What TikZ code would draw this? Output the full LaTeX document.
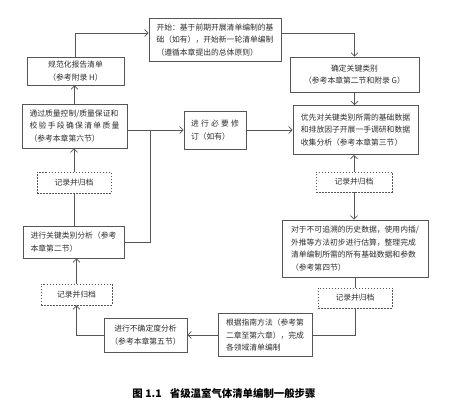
\documentclass[tikz,border=0pt]{standalone}
\usepackage{fontspec}
\setmainfont{Noto Sans CJK SC}
\definecolor{LineGray}{RGB}{85, 85, 85}
\definecolor{TextGray}{RGB}{45, 45, 45}
\usetikzlibrary{arrows.meta, positioning, calc}

\begin{document}
\begin{tikzpicture}[x=1pt, y=-1pt,
    box/.style={draw=LineGray, line width=0.7pt, inner sep=2pt, text=TextGray, font=\fontsize{7.8}{12.5}\selectfont},
    recbox/.style={box, dash pattern=on 1.5pt off 1.5pt, minimum width=74pt, minimum height=21pt},
    link/.style={LineGray, line width=0.7pt},
    arr/.style={link, -{Straight Barb[length=3.5pt, width=7pt]}}]
    \useasboundingbox (0,0) rectangle (474,419);

    % Left column
    \node[box, minimum width=97pt, minimum height=28pt, align=center] (norm) at (75.5,71) {规范化报告清单\\（参考附录 H）};
    \node[box, minimum width=105pt, minimum height=44pt, align=left] (qc) at (74.5,126) {通过质量控制/质量保证和\\\makebox[90pt][s]{校\hfill 验\hfill 手\hfill 段\hfill 确\hfill 保\hfill 清\hfill 单\hfill 质\hfill 量}\\（参考本章第六节）};
    \node[recbox] (recA) at (74,183) {记录并归档};
    \node[box, minimum width=101pt, minimum height=32pt, align=left] (keyan) at (73.5,242) {进行关键类别分析（参考\\本章第二节）};
    \node[recbox, minimum width=71pt] (recB) at (76.5,294.5) {记录并归档};

    % Middle
    \node[box, minimum width=132pt, minimum height=43pt, align=left] (start) at (215,40) {开始：基于前期开展清单编制的基\\础（如有），开始新一轮清单编制\\（遵循本章提出的总体原则）};
    \node[box, minimum width=62pt, minimum height=38pt, align=left] (rev) at (215,130) {\makebox[48pt][s]{进\hfill 行\hfill 必\hfill 要\hfill 修}\\订（如有）};
    \node[box, minimum width=83pt, minimum height=34pt, align=center] (unc) at (145.5,335) {进行不确定度分析\\（参考本章第五节）};
    \node[box, minimum width=94pt, minimum height=43pt, align=left] (comp) at (265,335) {根据指南方法（参考第\\二章至第六章），完成\\各领域清单编制};
    \coordinate (jn) at (150,130);

    % Right column
    \node[box, minimum width=129pt, minimum height=35pt, align=center] (keycat) at (354.5,74.5) {确定关键类别\\（参考本章第二节和附录 G）};
    \node[box, minimum width=125pt, minimum height=49pt, align=left] (prio) at (355.5,130) {优先对关键类别所需的基础数据\\和排放因子开展一手调研和数据\\收集分析（参考本章第三节）};
    \node[recbox, minimum width=76pt, minimum height=20pt] (recC) at (354,182) {记录并归档};
    \node[box, minimum width=146pt, minimum height=57pt, align=left] (hist) at (355,248.5) {对于不可追溯的历史数据，使用内插/\\外推等方法初步进行估算，整理完成\\清单编制所需的所有基础数据和参数\\（参考第四节）};
    \node[recbox, minimum height=20pt] (recD) at (355,298) {记录并归档};

    % Caption
    \node[font=\fontsize{10.4}{12}\selectfont\bfseries] (cap) at (224,393) {图 1.1\hspace{0.8em}省级温室气体清单编制一般步骤};

    % Connectors
    \draw[arr] (norm.north) |- ([yshift=7pt]start.west);
    \draw[arr] ([yshift=7pt]start.east) -| (keycat.north);
    \draw[arr] (keycat.south) -- (keycat.south |- prio.north);
    \draw[arr] (recC.north) -- (recC.north |- prio.south);
    \draw[arr] (recC.south) -- (recC.south |- hist.north);
    \draw[link] (hist.south) -- (hist.south |- recD.north);
    \draw[link] (recD.south) |- (comp.east);
    \draw[arr] (comp.west) -- (unc.east);
    \draw[arr] (unc.west) -| (recB.south);
    \draw[arr] (recB.north) -- (recB.north |- keyan.south);
    \draw[link] (recA.south) -- (recA.south |- keyan.north);
    \draw[arr] (recA.north) -- (recA.north |- qc.south);
    \draw[arr] (qc.north) -- (qc.north |- norm.south);
    \draw[arr] (qc.east |- rev.west) -- (rev.west);
    \draw[link] (keyan.east) -| (jn);
    \draw[arr] (rev.east) -- (prio.west);
\end{tikzpicture}
\end{document}
